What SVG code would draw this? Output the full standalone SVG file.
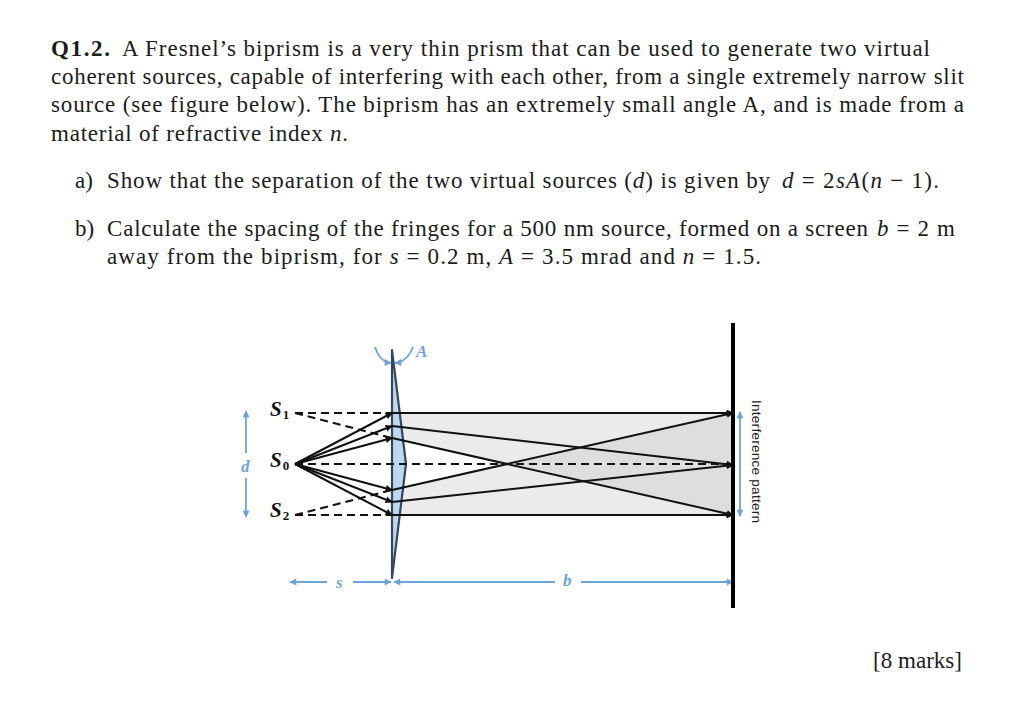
<svg xmlns="http://www.w3.org/2000/svg" width="1024" height="703" viewBox="0 0 1024 703">
<style>
.t{font-family:"Liberation Serif","Times New Roman",serif;font-size:23px;fill:#1c1c1c}
.i{font-style:italic}
.r{fill:none;stroke:#111;stroke-width:2}
.d{fill:none;stroke:#111;stroke-width:2;stroke-dasharray:8 5}
.b{fill:none;stroke:#6ea3d6;stroke-width:1.8}
.bl{font-family:"Liberation Serif",serif;font-style:italic;font-weight:bold;fill:#6ea3d6;font-size:17px}
.s{font-family:"Liberation Serif",serif;font-style:italic;font-weight:bold;fill:#111;font-size:21px}
.u{font-size:13px;font-style:normal}
</style>
<defs>
<marker id="k" viewBox="0 0 10 10" refX="9" refY="5" markerWidth="8" markerHeight="7" markerUnits="userSpaceOnUse" orient="auto"><path d="M0 0L10 5L0 10z" fill="#111"/></marker>
<marker id="u" viewBox="0 0 10 10" refX="9" refY="5" markerWidth="8" markerHeight="7" markerUnits="userSpaceOnUse" orient="auto"><path d="M0 0L10 5L0 10z" fill="#6ea3d6"/></marker>
<marker id="us" viewBox="0 0 10 10" refX="1" refY="5" markerWidth="8" markerHeight="7" markerUnits="userSpaceOnUse" orient="auto"><path d="M10 0L0 5L10 10z" fill="#6ea3d6"/></marker>
</defs>
<rect width="1024" height="703" fill="#fff"/>
<g id="question">
<text class="t" x="51" y="56" font-weight="bold" textLength="59">Q1.2.</text>
<text class="t" x="122" y="56" textLength="808">A Fresnel’s biprism is a very thin prism that can be used to generate two virtual</text>
<text class="t" x="51" y="84" textLength="913">coherent sources, capable of interfering with each other, from a single extremely narrow slit</text>
<text class="t" x="51" y="112" textLength="913">source (see figure below). The biprism has an extremely small angle A, and is made from a</text>
<text class="t" x="51" y="141" textLength="297">material of refractive index <tspan class="i">n</tspan>.</text>
<text class="t" x="75" y="188">a)</text>
<text class="t" x="107" y="188" textLength="663">Show that the separation of the two virtual sources (<tspan class="i">d</tspan>) is given by</text>
<text class="t" x="782" y="188" textLength="157"><tspan class="i">d</tspan> = 2<tspan class="i">sA</tspan>(<tspan class="i">n</tspan> − 1).</text>
<text class="t" x="75" y="236">b)</text>
<text class="t" x="107" y="236" textLength="761">Calculate the spacing of the fringes for a 500 nm source, formed on a screen</text>
<text class="t" x="877" y="236" textLength="78"><tspan class="i">b</tspan> = 2 m</text>
<text class="t" x="107" y="264" textLength="654">away from the biprism, for <tspan class="i">s</tspan> = 0.2 m, <tspan class="i">A</tspan> = 3.5 mrad and <tspan class="i">n</tspan> = 1.5.</text>
<text class="t" x="873" y="668" textLength="89">[8 marks]</text>
</g>
<g id="shading">
<polygon points="398,413 733,413 733,515 398,515" fill="#ebebeb"/>
<polygon points="400,439 508,464 400,488" fill="#fff"/>
<polygon points="508,464 733,413 733,515" fill="#dedede"/>
</g>
<g id="prism"><polygon points="392,350 406,464 392,578" fill="#bdd7ee" stroke="#36465f" stroke-width="2.2" stroke-linejoin="round"/></g>
<g id="connectors">
<path class="d" d="M295 413H392"/>
<path class="d" d="M295 413L392 438"/>
<path class="d" d="M295 464H733"/>
<path class="d" d="M295 515H392"/>
<path class="d" d="M295 515L392 490"/>
<path class="r" marker-end="url(#k)" d="M295 464L392 413"/>
<path class="r" marker-end="url(#k)" d="M295 464L392 426"/>
<path class="r" marker-end="url(#k)" d="M295 464L392 438"/>
<path class="r" marker-end="url(#k)" d="M295 464L392 490"/>
<path class="r" marker-end="url(#k)" d="M295 464L392 502"/>
<path class="r" marker-end="url(#k)" d="M295 464L392 515"/>
<path class="r" marker-end="url(#k)" d="M392 413H733"/>
<path class="r" marker-end="url(#k)" d="M392 426L733 465"/>
<path class="r" marker-end="url(#k)" d="M392 438L733 515"/>
<path class="r" marker-end="url(#k)" d="M392 490L733 413"/>
<path class="r" marker-end="url(#k)" d="M392 502L733 465"/>
<path class="r" marker-end="url(#k)" d="M392 515H733"/>
<path class="b" marker-end="url(#u)" d="M375 347Q380 362 391 363"/>
<path class="b" marker-end="url(#u)" d="M413 347Q407 362 395 363"/>
<path class="b" marker-end="url(#u)" d="M246 453V411"/>
<path class="b" marker-end="url(#u)" d="M246 478V517"/>
<path class="b" marker-end="url(#u)" d="M327 582H290"/>
<path class="b" marker-end="url(#u)" d="M353 582H391"/>
<path class="b" marker-end="url(#u)" d="M555 582H394"/>
<path class="b" marker-end="url(#u)" d="M581 582H733"/>
<path class="b" marker-start="url(#us)" marker-end="url(#u)" d="M740 412V516"/>
</g>
<g id="screen"><rect x="731" y="323" width="4" height="285" fill="#000"/><text font-family="Liberation Sans, Arial, sans-serif" font-size="13.5" fill="#222" transform="translate(752 400) rotate(90)" textLength="123">Interference pattern</text></g>
<g id="labels">
<text class="s" x="270" y="416">S<tspan class="u" dy="3" dx="1">1</tspan></text>
<text class="s" x="270" y="467">S<tspan class="u" dy="3" dx="1">0</tspan></text>
<text class="s" x="270" y="517">S<tspan class="u" dy="3" dx="1">2</tspan></text>
<text class="bl" x="241" y="472">d</text>
<text class="bl" x="336" y="588">s</text>
<text class="bl" x="563" y="586">b</text>
<text class="bl" x="416" y="357" font-size="15">A</text>
</g>
</svg>
